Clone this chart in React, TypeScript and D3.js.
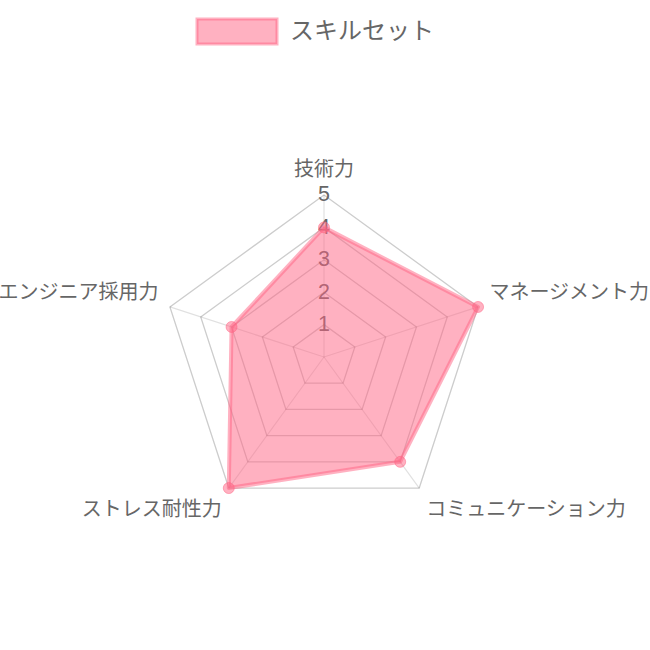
import React from "react";
import * as d3 from "d3";

const labels = ["技術力", "マネージメント力", "コミュニケーション力", "ストレス耐性力", "エンジニア採用力"];
const values = [4, 5, 4, 5, 3];
const ticks = [1, 2, 3, 4, 5];
const seriesName = "スキルセット";

const W = 650;
const H = 650;
const cx = 324;
const cy = 357;
const R = 162;
const FONT = "'Noto Sans CJK JP', 'Noto Sans', sans-serif";
const NUMFONT = "'Liberation Sans', Arial, sans-serif";
const FILL = "rgba(255,99,132,0.5)";

export default function App() {
  const r = d3.scaleLinear().domain([0, 5]).range([0, R]);
  const n = labels.length;
  const angle = (i: number) => (i * 2 * Math.PI) / n;
  const pt = (i: number, rad: number): [number, number] => [
    cx + rad * Math.sin(angle(i)),
    cy - rad * Math.cos(angle(i)),
  ];

  const line = d3.line<[number, number]>().curve(d3.curveLinearClosed);
  const ringPath = (v: number) => line(labels.map((_, i) => pt(i, r(v))));
  const dataPts = values.map((v, i) => pt(i, r(v)));

  const labelR = R + 12;
  const lh = 22;

  return (
    <div style={{ position: "absolute", left: 0, top: 0 }}>
      <svg width={W} height={H} style={{ display: "block" }}>
        <rect width={W} height={H} fill="#fff" />
        {labels.map((_, i) => {
          const [x, y] = pt(i, R);
          return <line key={"s" + i} x1={cx} y1={cy} x2={x} y2={y} stroke="rgba(0,0,0,0.12)" strokeWidth={1.2} />;
        })}
        {ticks.map((t) => (
          <path key={"r" + t} d={ringPath(t) || ""} fill="none" stroke="rgba(0,0,0,0.2)" strokeWidth={1.3} />
        ))}
        {ticks.map((t) => (
          <text
            key={"t" + t}
            x={cx}
            y={cy - r(t)}
            dy="0.3em"
            textAnchor="middle"
            fontFamily={NUMFONT}
            fontSize={21.5}
            fill="#666"
          >
            {t}
          </text>
        ))}
        <path d={line(dataPts) || ""} fill={FILL} stroke={FILL} strokeWidth={4} strokeLinejoin="round" />
        {dataPts.map(([x, y], i) => (
          <circle key={"p" + i} cx={x} cy={y} r={5.5} fill={FILL} stroke={FILL} strokeWidth={1} />
        ))}
        {labels.map((lab, i) => {
          const [x, y] = pt(i, labelR);
          const s = Math.sin(angle(i));
          const c = Math.cos(angle(i));
          const anchor = Math.abs(s) < 0.01 ? "middle" : s > 0 ? "start" : "end";
          let yc = c > 0.01 ? y - lh / 2 : c < -0.01 ? y + lh / 2 : y;
          if (Math.abs(s) < 0.01) yc -= 3;
          return (
            <text
              key={"l" + i}
              x={x}
              y={yc}
              dy="0.35em"
              textAnchor={anchor}
              fontFamily={FONT}
              fontSize={20}
              fill="#666"
            >
              {lab}
            </text>
          );
        })}
        <rect x={197} y={19} width={80} height={25} fill={FILL} stroke={FILL} strokeWidth={3} />
        <text x={290} y={31} dy="0.35em" fontFamily={FONT} fontSize={24} fill="#666">
          {seriesName}
        </text>
      </svg>
    </div>
  );
}
